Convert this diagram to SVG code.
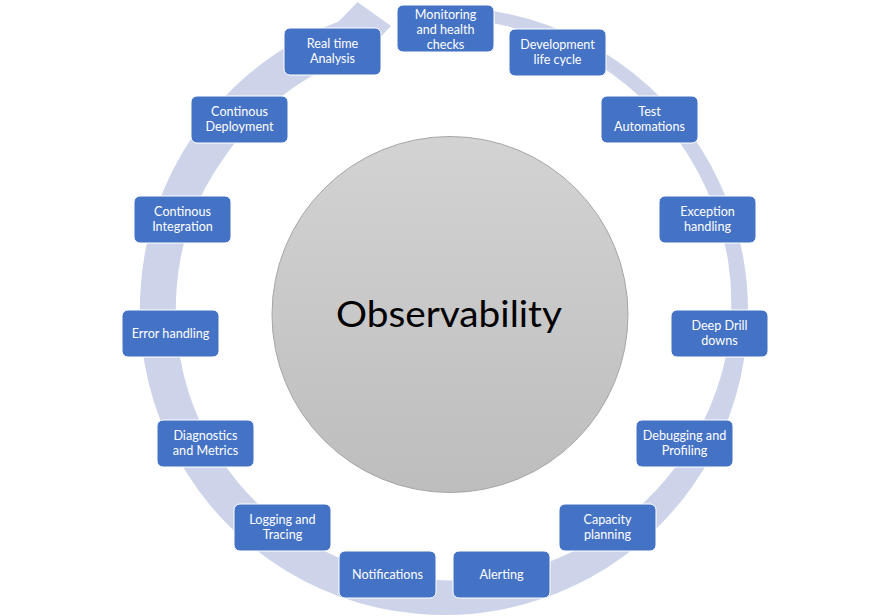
<svg xmlns="http://www.w3.org/2000/svg" width="889" height="616" viewBox="0 0 889 616">
<defs>
<linearGradient id="gc" x1="0" y1="0" x2="0" y2="1">
<stop offset="0" stop-color="#D3D3D3"/>
<stop offset="1" stop-color="#BDBDBD"/>
</linearGradient>
<style>
.box{fill:#4472C4;stroke:#FFFFFF;stroke-width:1}
.lbl{font-family:Lato,"Open Sans","DejaVu Sans",sans-serif;font-size:12.6px;fill:#FFFFFF;text-anchor:middle}
.ttl{font-family:Lato,"Open Sans","DejaVu Sans",sans-serif;font-size:37px;fill:#000000;text-anchor:middle}
</style>
</defs>
<rect width="889" height="616" fill="#FFFFFF"/>
<g id="connectors">
<path fill="#CDD4EA" d="M 481.0 9.3 A 304 304 0 0 1 548.0 25.3 A 304 304 0 0 1 618.4 62.0 A 304 304 0 0 1 676.9 115.6 A 304 304 0 0 1 719.5 182.5 A 304 304 0 0 1 743.4 258.2 A 304 304 0 0 1 746.8 337.5 A 304 304 0 0 1 729.7 415.0 A 304 304 0 0 1 693.0 485.4 A 304 304 0 0 1 639.4 543.9 A 304 304 0 0 1 572.5 586.5 A 304 304 0 0 1 496.8 610.4 A 304 304 0 0 1 417.5 613.8 A 304 304 0 0 1 340.0 596.7 A 304 304 0 0 1 269.6 560.0 A 304 304 0 0 1 211.1 506.4 A 304 304 0 0 1 168.5 439.5 A 304 304 0 0 1 144.6 363.8 A 304 304 0 0 1 140.9 284.5 A 305 305 0 0 1 157.2 206.6 A 306 306 0 0 1 193.3 135.4 A 307 307 0 0 1 246.7 75.8 A 308 308 0 0 1 338.7 21.6 L 357.5 2 L 391 26 L 354.4 64.8 L 351.7 57.3 A 270 270 0 0 0 271.1 104.9 A 269 269 0 0 0 224.4 157.2 A 269 269 0 0 0 191.0 218.9 A 269 269 0 0 0 176.7 287.6 A 268 268 0 0 0 180.1 357.5 A 268 268 0 0 0 201.1 424.3 A 268 268 0 0 0 238.7 483.3 A 268 268 0 0 0 290.3 530.5 A 268 268 0 0 0 352.2 563.1 A 269 269 0 0 0 420.6 578.8 A 270 270 0 0 0 490.9 577.2 A 271 271 0 0 0 559.1 557.8 A 274 274 0 0 0 621.0 521.9 A 277 277 0 0 0 672.4 470.9 A 281 281 0 0 0 709.7 407.7 A 285 285 0 0 0 729.6 336.0 A 288 288 0 0 0 728.1 260.9 A 289 289 0 0 0 706.2 188.8 A 290 290 0 0 0 666.2 124.6 A 290 290 0 0 0 610.7 72.9 A 291 291 0 0 0 543.7 37.2 A 292 292 0 0 0 479.6 21.2 Z"/>
</g>
<g id="center">
<circle cx="450" cy="314.5" r="178" fill="url(#gc)" stroke="#A6A6A6" stroke-width="1"/>
<text class="ttl" x="449" y="327" textLength="226" lengthAdjust="spacingAndGlyphs">Observability</text>
</g>
<g id="n1"><rect class="box" x="397" y="5" width="97" height="47" rx="6"/><text class="lbl" x="445.5" y="18.5">Monitoring</text><text class="lbl" x="445.5" y="33.5">and health</text><text class="lbl" x="445.5" y="48.5">checks</text></g>
<g id="n2"><rect class="box" x="509" y="29" width="97" height="47" rx="6"/><text class="lbl" x="557.5" y="49">Development</text><text class="lbl" x="557.5" y="64">life cycle</text></g>
<g id="n3"><rect class="box" x="601" y="96" width="97" height="47" rx="6"/><text class="lbl" x="649.5" y="116">Test</text><text class="lbl" x="649.5" y="131">Automations</text></g>
<g id="n4"><rect class="box" x="659" y="196" width="97" height="47" rx="6"/><text class="lbl" x="707.5" y="216">Exception</text><text class="lbl" x="707.5" y="231">handling</text></g>
<g id="n5"><rect class="box" x="671" y="310" width="97" height="47" rx="6"/><text class="lbl" x="719.5" y="330">Deep Drill</text><text class="lbl" x="719.5" y="345">downs</text></g>
<g id="n6"><rect class="box" x="636" y="420" width="97" height="47" rx="6"/><text class="lbl" x="684.5" y="440">Debugging and</text><text class="lbl" x="684.5" y="455">Profiling</text></g>
<g id="n7"><rect class="box" x="559" y="504" width="97" height="47" rx="6"/><text class="lbl" x="607.5" y="524">Capacity</text><text class="lbl" x="607.5" y="539">planning</text></g>
<g id="n8"><rect class="box" x="453" y="551" width="97" height="47" rx="6"/><text class="lbl" x="501.5" y="579">Alerting</text></g>
<g id="n9"><rect class="box" x="339" y="551" width="97" height="47" rx="6"/><text class="lbl" x="387.5" y="579">Notifications</text></g>
<g id="n10"><rect class="box" x="234" y="504" width="97" height="47" rx="6"/><text class="lbl" x="282.5" y="524">Logging and</text><text class="lbl" x="282.5" y="539">Tracing</text></g>
<g id="n11"><rect class="box" x="157" y="420" width="97" height="47" rx="6"/><text class="lbl" x="205.5" y="440">Diagnostics</text><text class="lbl" x="205.5" y="455">and Metrics</text></g>
<g id="n12"><rect class="box" x="122" y="310" width="97" height="47" rx="6"/><text class="lbl" x="170.5" y="338">Error handling</text></g>
<g id="n13"><rect class="box" x="134" y="196" width="97" height="47" rx="6"/><text class="lbl" x="182.5" y="216">Continous</text><text class="lbl" x="182.5" y="231">Integration</text></g>
<g id="n14"><rect class="box" x="191" y="96" width="97" height="47" rx="6"/><text class="lbl" x="239.5" y="116">Continous</text><text class="lbl" x="239.5" y="131">Deployment</text></g>
<g id="n15"><rect class="box" x="284" y="28" width="97" height="47" rx="6"/><text class="lbl" x="332.5" y="48">Real time</text><text class="lbl" x="332.5" y="63">Analysis</text></g>
</svg>
